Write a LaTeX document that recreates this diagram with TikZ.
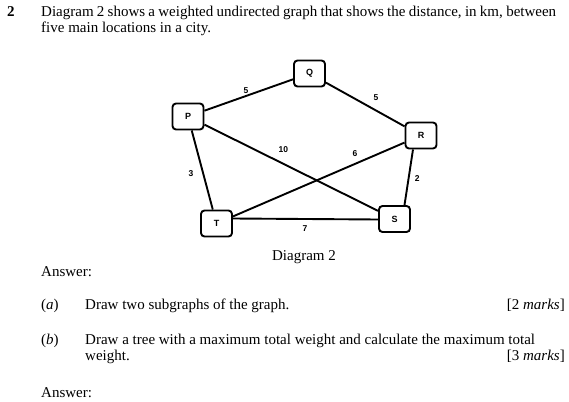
\documentclass[tikz,border=0pt]{standalone}
\usepackage{fontspec}
\setmainfont{Liberation Serif}
\newfontfamily\lblfont{Liberation Sans}
\begin{document}
\begin{tikzpicture}[x=1pt,y=-1pt,
  vert/.style={draw,line width=1.9pt,rounded corners=3.5pt,minimum width=31pt,minimum height=26pt,inner sep=0pt,font=\lblfont\bfseries\fontsize{9}{10}\selectfont},
  wt/.style={inner sep=0pt,font=\lblfont\bfseries\fontsize{8.5}{10}\selectfont},
  edge/.style={line width=1.9pt},
  txt/.style={anchor=base west,inner sep=0pt,font=\fontsize{15}{16}\selectfont},
  txtr/.style={anchor=base east,inner sep=0pt,font=\fontsize{15}{16}\selectfont}]
\useasboundingbox (0,0) rectangle (569,401);
% vertices
\node[vert] (Q) at (309.5,73.5) {Q};
\node[vert] (P) at (188,116.5) {P};
\node[vert] (R) at (421,135.5) {R};
\node[vert] (T) at (216.5,223.5) {T};
\node[vert] (S) at (394.5,219) {S};
% edges
\draw[edge] (P) -- (Q);
\draw[edge] (Q) -- (R);
\draw[edge] (P) -- (S);
\draw[edge] (T) -- (R);
\draw[edge] (P) -- (T);
\draw[edge] ([xshift=-8pt]R.south) -- ([xshift=10pt]S.north);
\draw[edge] ([yshift=5pt]T.east) -- ([yshift=-0.5pt]S.west);
% weights
\node[wt] (wPQ) at (246,90.7) {5};
\node[wt] (wQR) at (376,97.3) {5};
\node[wt] (wPS) at (283.3,149.3) {10};
\node[wt] (wTR) at (355,153.3) {6};
\node[wt] (wPT) at (191,173.3) {3};
\node[wt] (wRS) at (417.3,178.3) {2};
\node[wt] (wTS) at (305,228.3) {7};
% text
\node[txt] (num) at (7,17) {\bfseries 2};
\node[txt] (l1) at (41,17) {\makebox[515pt][s]{Diagram 2 shows a weighted undirected graph that shows the distance, in km, between}};
\node[txt] (l2) at (41,33) {five main locations in a city.};
\node[anchor=base,inner sep=0pt,font=\fontsize{15}{16}\selectfont] (cap) at (304,260) {Diagram 2};
\node[txt] (ans1) at (41,276) {Answer:};
\node[txt] (a) at (41,309) {(\textit{a})};
\node[txt] (aq) at (85,309) {Draw two subgraphs of the graph.};
\node[txtr] (am) at (565,309) {[2 \textit{marks}]};
\node[txt] (b) at (41,344) {(\textit{b})};
\node[txt] (bq1) at (85,344) {Draw a tree with a maximum total weight and calculate the maximum total};
\node[txt] (bq2) at (85,360) {weight.};
\node[txtr] (bm) at (565,360) {[3 \textit{marks}]};
\node[txt] (ans2) at (41,397) {Answer:};
\end{tikzpicture}
\end{document}
